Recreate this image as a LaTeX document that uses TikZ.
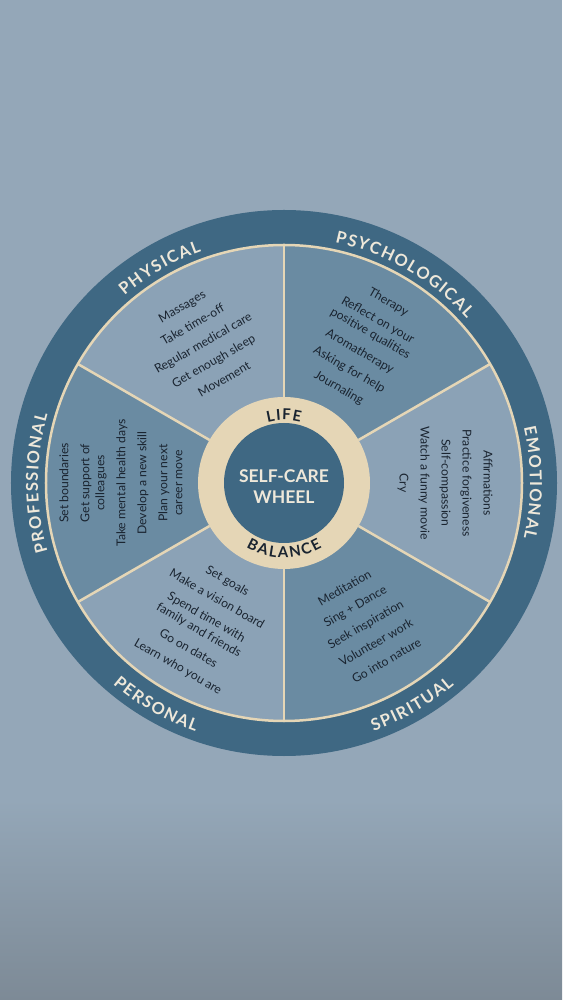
\documentclass[tikz,border=0pt]{standalone}
\usepackage{fontspec}
\setmainfont{Lato}
\definecolor{bg}{HTML}{94A7B8}
\definecolor{bgdark}{HTML}{7D8A96}
\definecolor{band}{HTML}{3F6883}
\definecolor{lightsec}{HTML}{8BA2B6}
\definecolor{darksec}{HTML}{6A8BA2}
\definecolor{cream}{HTML}{E5D6B6}
\definecolor{ink}{HTML}{1A2430}
\definecolor{lbl}{HTML}{EEE8DA}
\newcommand\lblfont{\fontsize{16.5}{18}\selectfont\bfseries}
\newcommand\ringfont{\fontsize{15}{17}\selectfont\bfseries}
\newlength\arclw
\newcommand\arcmeasure[2]{%
  \pgfinterruptpicture\settowidth\arclw{#1#2}\global\arclw=\arclw\endpgfinterruptpicture}
% #1 radius, #2 centre angle, #3 direction (-1 clockwise, +1 counter-clockwise), #4 font, #5 colour, #6 tracking, #7 letters
\newcommand\arcword[7]{%
  \gdef\arcacc{0}%
  \foreach \ltr in {#7}{%
    \arcmeasure{#4}{\ltr}%
    \pgfmathsetmacro\arctmp{\arcacc+\arclw+#6}%
    \xdef\arcacc{\arctmp}%
  }%
  \pgfmathsetmacro\arctmp{-(\arcacc-#6)/2}%
  \xdef\arcpos{\arctmp}%
  \foreach \ltr in {#7}{%
    \arcmeasure{#4}{\ltr}%
    \pgfmathsetmacro\arcang{#2+#3*(\arcpos+\arclw/2)/#1*57.29578}%
    \pgfmathsetmacro\arcrot{\arcang+#3*90}%
    \node[text=#5, font=#4, inner sep=0pt, anchor=base, rotate=\arcrot] at (\arcang:#1) {\ltr};
    \pgfmathsetmacro\arctmp{\arcpos+\arclw+#6}%
    \xdef\arcpos{\arctmp}%
  }%
}
\begin{document}
\begin{tikzpicture}[x=1pt,y=1pt,
  item/.style={text=ink, font=\fontsize{12.2}{15}\selectfont, align=center, inner sep=0pt},
  divider/.style={draw=cream, line width=2.5pt}
]
% background
\fill[bg] (-284,-317) rectangle (278,483);
\shade[top color=bg, bottom color=bgdark] (-284,-517) rectangle (278,-317);
\useasboundingbox (-284,-517) rectangle (278,483);
% outer band
\fill[band] (0,0) circle[radius=273];
% sectors
\foreach \a/\c in {90/lightsec, 30/darksec, -30/lightsec, -90/darksec, -150/lightsec, 150/darksec}
  \fill[\c] (0,0) -- (\a:238) arc[start angle=\a, end angle=\a+60, radius=238] -- cycle;
\draw[cream, line width=2.5pt] (0,0) circle[radius=238];
% dividers
\foreach \a in {30,90,...,330}
  \draw[divider] (\a:86) coordinate (in\a) -- (\a:238) coordinate (out\a);
% hub
\fill[cream] (0,0) circle[radius=86];
\fill[band] (0,0) circle[radius=60];
\node[text=lbl, font=\fontsize{17.5}{21}\selectfont\bfseries, align=center] (hub) at (0,-4) {SELF-CARE\\WHEEL};
% ring words
\arcword{63}{90}{-1}{\ringfont}{ink}{1.2}{L,I,F,E}
\arcword{75}{270}{1}{\ringfont}{ink}{1.8}{B,A,L,A,N,C,E}
% outer labels
\arcword{246}{120}{-1}{\lblfont}{lbl}{1.5}{P,H,Y,S,I,C,A,L}
\arcword{246}{60}{-1}{\lblfont}{lbl}{1.5}{P,S,Y,C,H,O,L,O,G,I,C,A,L}
\arcword{246}{0}{-1}{\lblfont}{lbl}{1.5}{E,M,O,T,I,O,N,A,L}
\arcword{246}{180}{-1}{\lblfont}{lbl}{1.5}{P,R,O,F,E,S,S,I,O,N,A,L}
\arcword{264}{300}{1}{\lblfont}{lbl}{1.5}{S,P,I,R,I,T,U,A,L}
\arcword{264}{240}{1}{\lblfont}{lbl}{1.5}{P,E,R,S,O,N,A,L}
% sector items
\node[item, rotate=30] (physical) at (120:162) {Massages\\[6pt]Take time-off\\[6pt]Regular medical care\\[6pt]Get enough sleep\\[6pt]Movement};
\node[item, rotate=-30] (psychological) at (60:159) {Therapy\\[6pt]Reflect on your\\positive qualities\\[6pt]Aromatherapy\\[6pt]Asking for help\\[6pt]Journaling};
\node[item, rotate=-90] (emotional) at (0:161) {Affirmations\\[6pt]Practice forgiveness\\[6pt]Self-compassion\\[6pt]Watch a funny movie\\[6pt]Cry};
\node[item, rotate=30] (spiritual) at (-60:163) {Meditation\\[6pt]Sing + Dance\\[6pt]Seek inspiration\\[6pt]Volunteer work\\[6pt]Go into nature};
\node[item, rotate=-30] (personal) at (-120:163) {Set goals\\[6pt]Make a vision board\\[6pt]Spend time with\\family and friends\\[6pt]Go on dates\\[6pt]Learn who you are};
\node[item, rotate=90] (professional) at (180:163) {Set boundaries\\[6pt]Get support of\\colleagues\\[6pt]Take mental health days\\[6pt]Develop a new skill\\[6pt]Plan your next\\career move};
\end{tikzpicture}
\end{document}
